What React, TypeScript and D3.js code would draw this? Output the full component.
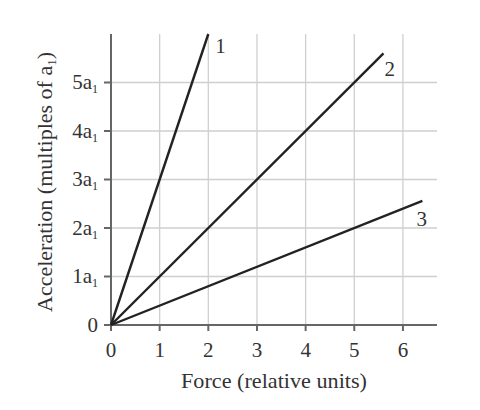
import * as d3 from "d3";

const xTicks = [0, 1, 2, 3, 4, 5, 6];
const yTicks = [0, 1, 2, 3, 4, 5];
const yTickLabels = ["0", "1a", "2a", "3a", "4a", "5a"];
const lineNames = ["1", "2", "3"];
const lineEnds = [
  [2, 6],
  [5.6, 5.6],
  [6.4, 2.56],
];

const W = 480;
const H = 410;
const margin = { top: 34, right: 43, bottom: 85, left: 111 };
const FONT = "'Liberation Serif', 'Times New Roman', serif";

export default function App() {
  const x = d3.scaleLinear().domain([0, 6.7]).range([margin.left, W - margin.right]);
  const y = d3.scaleLinear().domain([0, 6]).range([H - margin.bottom, margin.top]);
  const line = d3
    .line<number[]>()
    .x((d) => x(d[0]))
    .y((d) => y(d[1]));

  // where each line's number sits relative to its end point
  const labelOffsets = [
    [7, 19],
    [1, 23],
    [-6, 25],
  ];

  return (
    <svg
      width={W}
      height={H}
      style={{ position: "absolute", left: 0, top: 0, background: "#fff" }}
      fontFamily={FONT}
    >
      {/* grid */}
      {xTicks.slice(1).map((t) => (
        <line
          key={"gx" + t}
          x1={x(t)}
          x2={x(t)}
          y1={y(6)}
          y2={y(0)}
          stroke="#cfcfcf"
          strokeWidth={1.3}
        />
      ))}
      {yTicks.slice(1).map((t) => (
        <line
          key={"gy" + t}
          x1={x(0)}
          x2={x(6.7)}
          y1={y(t)}
          y2={y(t)}
          stroke="#cfcfcf"
          strokeWidth={1.3}
        />
      ))}

      {/* axes */}
      <line x1={x(0)} x2={x(0)} y1={y(6)} y2={y(0)} stroke="#666" strokeWidth={2} />
      <line x1={x(0) - 1} x2={x(6.7)} y1={y(0)} y2={y(0)} stroke="#666" strokeWidth={2} />
      {yTicks.map((t, i) => (
        <g key={"ty" + t}>
          <line x1={x(0) - 7} x2={x(0)} y1={y(t)} y2={y(t)} stroke="#666" strokeWidth={2} />
          <text
            x={x(0) - 13}
            y={y(t)}
            dy="0.33em"
            textAnchor="end"
            fontSize={21}
            fill="#333"
          >
            {yTickLabels[i]}
            {i > 0 && (
              <tspan fontSize={12} dy="4">
                1
              </tspan>
            )}
          </text>
        </g>
      ))}
      {xTicks.map((t) => (
        <g key={"tx" + t}>
          <line x1={x(t)} x2={x(t)} y1={y(0)} y2={y(0) + 6} stroke="#666" strokeWidth={2} />
          <text x={x(t)} y={y(0) + 32} textAnchor="middle" fontSize={21} fill="#333">
            {t}
          </text>
        </g>
      ))}

      {/* lines */}
      {lineEnds.map((e, i) => (
        <g key={"l" + i}>
          <path
            d={line([[0, 0], e]) ?? ""}
            fill="none"
            stroke="#222"
            strokeWidth={2.4}
          />
          <text
            x={x(e[0]) + labelOffsets[i][0]}
            y={y(e[1]) + labelOffsets[i][1]}
            fontSize={21}
            fill="#333"
          >
            {lineNames[i]}
          </text>
        </g>
      ))}

      {/* axis titles */}
      <text
        x={274}
        y={388}
        textAnchor="middle"
        fontSize={22}
        fill="#333"
        textLength={186}
        lengthAdjust="spacingAndGlyphs"
      >
        Force (relative units)
      </text>
      <text
        transform={`translate(52, 182) rotate(-90)`}
        textAnchor="middle"
        fontSize={22}
        fill="#333"
      >
        Acceleration (multiples of a
        <tspan fontSize={13} dy="4">
          1
        </tspan>
        <tspan dy="-4">)</tspan>
      </text>
    </svg>
  );
}
